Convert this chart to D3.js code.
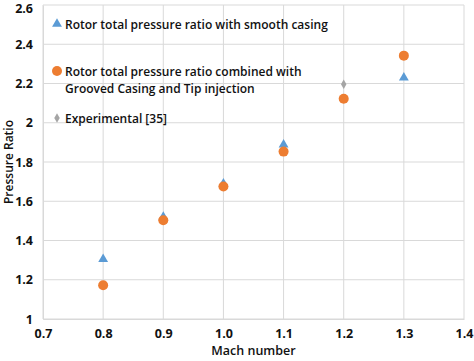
<!DOCTYPE html>
<html>
<head>
<meta charset="utf-8">
<script src="https://cdn.jsdelivr.net/npm/d3@7"></script>
<style>
  body { margin: 0; background: #fff; }
  svg text { font-family: "Open Sans", sans-serif; font-weight: 600; fill: #111; }
</style>
</head>
<body>
<svg id="chart" width="474" height="361"></svg>
<script>
// values
const machSmooth = [0.8, 0.9, 1.0, 1.1, 1.3];
const prSmooth = [1.305, 1.52, 1.69, 1.888, 2.23];
const machGrooved = [0.8, 0.9, 1.0, 1.1, 1.2, 1.3];
const prGrooved = [1.172, 1.503, 1.675, 1.853, 2.122, 2.342];
const machExp = [1.2];
const prExp = [2.196];
const xTicks = [0.7, 0.8, 0.9, 1.0, 1.1, 1.2, 1.3, 1.4];
const yTicks = [1, 1.2, 1.4, 1.6, 1.8, 2, 2.2, 2.4, 2.6];

var margin = {top: 5, right: 10, bottom: 42, left: 43},
  width = 474 - margin.left - margin.right,
  height = 361 - margin.top - margin.bottom;

var svg = d3.select("#chart")
  .append("g")
  .attr("transform", "translate(" + margin.left + "," + margin.top + ")");

var xScale = d3.scaleLinear().domain([0.7, 1.4]).range([0, width]);
var yScale = d3.scaleLinear().domain([1, 2.6]).range([height, 0]);

// gridlines
svg.append("g")
  .selectAll("line.v")
  .data(xTicks).enter().append("line")
  .attr("x1", d => xScale(d)).attr("x2", d => xScale(d))
  .attr("y1", 0).attr("y2", height)
  .attr("stroke", "#d9d9d9").attr("stroke-width", 1);
svg.append("g")
  .selectAll("line.h")
  .data(yTicks).enter().append("line")
  .attr("x1", 0).attr("x2", width)
  .attr("y1", d => yScale(d)).attr("y2", d => yScale(d))
  .attr("stroke", "#d9d9d9").attr("stroke-width", 1);

// axes
var xAxis = svg.append("g")
  .attr("transform", "translate(0," + height + ")")
  .call(d3.axisBottom(xScale).tickValues(xTicks).tickSize(0).tickPadding(10)
    .tickFormat(d => d.toFixed(1)));
xAxis.select(".domain").attr("stroke", "#d9d9d9");
xAxis.selectAll("text").style("font-size", "12.5px").style("font-weight", 700).attr("fill", "#111");

var yAxis = svg.append("g")
  .call(d3.axisLeft(yScale).tickValues(yTicks).tickSize(0).tickPadding(10)
    .tickFormat(d => d3.format("")(+d.toFixed(1))));
yAxis.select(".domain").attr("stroke", "#d9d9d9");
yAxis.selectAll("text").style("font-size", "12.5px").style("font-weight", 700).attr("fill", "#111");
yAxis.selectAll("text").filter(d => d === 2.6).attr("dy", "0.6em");

// axis titles
svg.append("text")
  .attr("x", width / 2).attr("y", height + 36)
  .attr("text-anchor", "middle")
  .style("font-size", "12.5px")
  .text("Mach number");
svg.append("text")
  .attr("transform", "translate(" + (-30) + "," + (height / 2) + ") rotate(-90)")
  .attr("text-anchor", "middle")
  .style("font-size", "12px")
  .text("Pressure Ratio");

var triangle = d3.symbol().type(d3.symbolTriangle).size(42);
var diamond = d3.symbol().type(d3.symbolDiamond).size(26);

// experimental
svg.selectAll("path.exp")
  .data(machExp.map((m, i) => ({m: m, p: prExp[i]})))
  .enter().append("path")
  .attr("d", diamond)
  .attr("transform", d => "translate(" + xScale(d.m) + "," + yScale(d.p) + ")")
  .attr("fill", "#a5a5a5");

// smooth casing
svg.selectAll("path.smooth")
  .data(machSmooth.map((m, i) => ({m: m, p: prSmooth[i]})))
  .enter().append("path")
  .attr("d", triangle)
  .attr("transform", d => "translate(" + xScale(d.m) + "," + yScale(d.p) + ")")
  .attr("fill", "#5b9bd5");

// grooved casing + tip injection
svg.selectAll("circle.grooved")
  .data(machGrooved.map((m, i) => ({m: m, p: prGrooved[i]})))
  .enter().append("circle")
  .attr("cx", d => xScale(d.m))
  .attr("cy", d => yScale(d.p))
  .attr("r", 5)
  .attr("fill", "#ed7d31");

// legend
var legend = svg.append("g").attr("transform", "translate(14,0)");
legend.append("path").attr("d", triangle)
  .attr("transform", "translate(0,19)").attr("fill", "#5b9bd5");
legend.append("text").attr("x", 8).attr("y", 24).style("font-size", "12px")
  .text("Rotor total pressure ratio with smooth casing");
legend.append("circle").attr("cx", 0).attr("cy", 66).attr("r", 5).attr("fill", "#ed7d31");
legend.append("text").attr("x", 8).attr("y", 71).style("font-size", "12px")
  .text("Rotor total pressure ratio combined with");
legend.append("text").attr("x", 8).attr("y", 88).style("font-size", "12px")
  .text("Grooved Casing and Tip injection");
legend.append("path").attr("d", diamond)
  .attr("transform", "translate(0,113)").attr("fill", "#a5a5a5");
legend.append("text").attr("x", 8).attr("y", 118).style("font-size", "12px")
  .text("Experimental [35]");
</script>
</body>
</html>
